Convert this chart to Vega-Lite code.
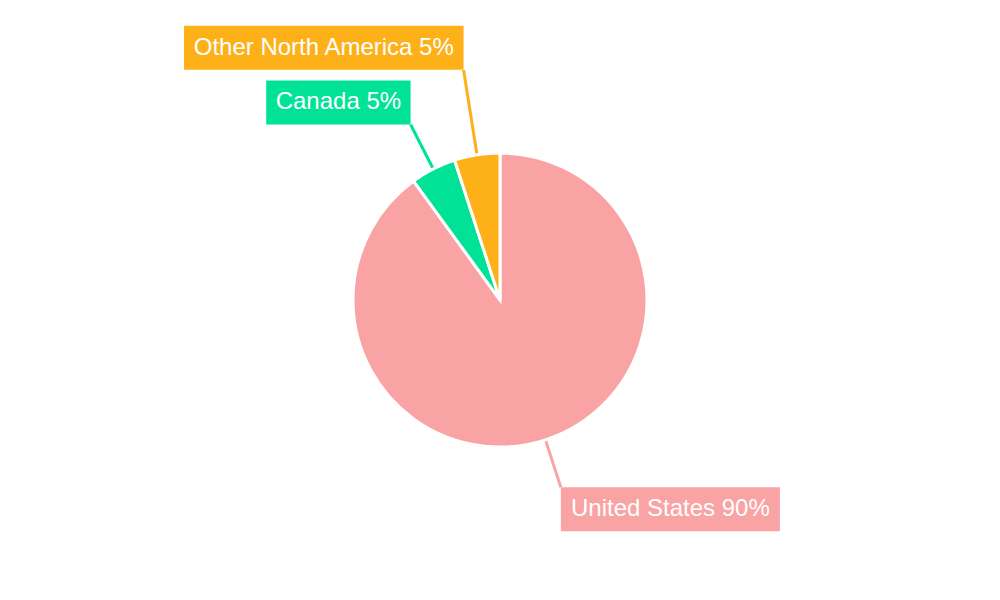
{
  "$schema": "https://vega.github.io/schema/vega-lite/v6.json",
  "width": 1000,
  "height": 600,
  "autosize": {"type": "fit", "contains": "padding"},
  "padding": 0,
  "background": "white",
  "config": {"view": {"stroke": null}},
  "data": {
    "values": [
      {"region": "United States", "share": 90},
      {"region": "Canada", "share": 5},
      {"region": "Other North America", "share": 5}
    ]
  },
  "transform": [
    {"window": [{"op": "row_number", "as": "idx"}]},
    {"joinaggregate": [{"op": "sum", "field": "share", "as": "total"}]},
    {"window": [{"op": "sum", "field": "share", "as": "cum"}], "sort": [{"field": "idx"}], "frame": [null, 0]},
    {"calculate": "2*PI*(datum.cum - datum.share/2)/datum.total", "as": "mid"},
    {"calculate": "sin(datum.mid) >= 0 ? 1 : -1", "as": "side"},
    {"calculate": "cos(datum.mid) >= 0 ? 1 : -1", "as": "vert"},
    {"window": [{"op": "row_number", "as": "qrank"}], "groupby": ["side", "vert"], "sort": [{"field": "mid"}]},
    {"calculate": "197 + 36*(datum.qrank - 1)", "as": "labelR"},
    {"calculate": "datum.region + ' ' + datum.share + '%'", "as": "label"},
    {"calculate": "length(datum.label)", "as": "nAll"},
    {"calculate": "datum.nAll - length(replace(datum.label, regexp('[ilj]', 'g'), ''))", "as": "n1"},
    {"calculate": "datum.nAll - length(replace(datum.label, regexp('[tf ]', 'g'), ''))", "as": "n2"},
    {"calculate": "datum.nAll - length(replace(datum.label, regexp('[r]', 'g'), ''))", "as": "n3"},
    {"calculate": "datum.nAll - length(replace(datum.label, regexp('[sckvxyz]', 'g'), ''))", "as": "n4"},
    {"calculate": "datum.nAll - length(replace(datum.label, regexp('[mw]', 'g'), ''))", "as": "n5"},
    {"calculate": "datum.nAll - length(replace(datum.label, regexp('[A-Z]', 'g'), ''))", "as": "n6"},
    {"calculate": "datum.nAll - length(replace(datum.label, regexp('[%]', 'g'), ''))", "as": "n7"},
    {"calculate": "24*(0.556*datum.nAll - 0.334*datum.n1 - 0.278*datum.n2 - 0.223*datum.n3 - 0.056*datum.n4 + 0.25*datum.n5 + 0.164*datum.n6 + 0.333*datum.n7) + 19", "as": "boxW"},
    {"calculate": "140*sin(datum.mid)", "as": "x0"},
    {"calculate": "-140*cos(datum.mid)", "as": "y0"},
    {"calculate": "datum.labelR*sin(datum.mid)", "as": "x1"},
    {"calculate": "-datum.labelR*cos(datum.mid)", "as": "y1"},
    {"calculate": "datum.x1 + datum.side*datum.boxW", "as": "bx2"},
    {"calculate": "datum.y1 - datum.vert*44", "as": "by2"},
    {"calculate": "datum.x1 + datum.side*datum.boxW/2", "as": "tx"},
    {"calculate": "datum.y1 - datum.vert*22", "as": "ty"}
  ],
  "layer": [
    {
      "mark": {"type": "rule", "strokeWidth": 3},
      "encoding": {
        "x": {"field": "x0", "type": "quantitative", "scale": {"domain": [-500, 500]}, "axis": null},
        "y": {"field": "y0", "type": "quantitative", "scale": {"domain": [-300, 300], "reverse": true}, "axis": null},
        "x2": {"field": "x1"},
        "y2": {"field": "y1"},
        "color": {"field": "region", "type": "nominal", "scale": {"domain": ["United States", "Canada", "Other North America"], "range": ["#F9A3A4", "#00E396", "#FEB019"]}, "legend": null}
      }
    },
    {
      "mark": {"type": "arc", "radius": 147, "stroke": "white", "strokeWidth": 3},
      "encoding": {
        "theta": {"field": "share", "type": "quantitative", "stack": true},
        "order": {"field": "idx", "type": "quantitative"},
        "color": {"field": "region", "type": "nominal", "scale": {"domain": ["United States", "Canada", "Other North America"], "range": ["#F9A3A4", "#00E396", "#FEB019"]}, "legend": null}
      }
    },
    {
      "mark": {"type": "rect"},
      "encoding": {
        "x": {"field": "x1", "type": "quantitative", "scale": {"domain": [-500, 500]}, "axis": null},
        "x2": {"field": "bx2"},
        "y": {"field": "y1", "type": "quantitative", "scale": {"domain": [-300, 300], "reverse": true}, "axis": null},
        "y2": {"field": "by2"},
        "color": {"field": "region", "type": "nominal", "scale": {"domain": ["United States", "Canada", "Other North America"], "range": ["#F9A3A4", "#00E396", "#FEB019"]}, "legend": null}
      }
    },
    {
      "mark": {"type": "text", "font": "Liberation Sans", "fontSize": 24, "fill": "white", "align": "center", "baseline": "middle"},
      "encoding": {
        "x": {"field": "tx", "type": "quantitative", "scale": {"domain": [-500, 500]}, "axis": null},
        "y": {"field": "ty", "type": "quantitative", "scale": {"domain": [-300, 300], "reverse": true}, "axis": null},
        "text": {"field": "label", "type": "nominal"}
      }
    }
  ]
}
